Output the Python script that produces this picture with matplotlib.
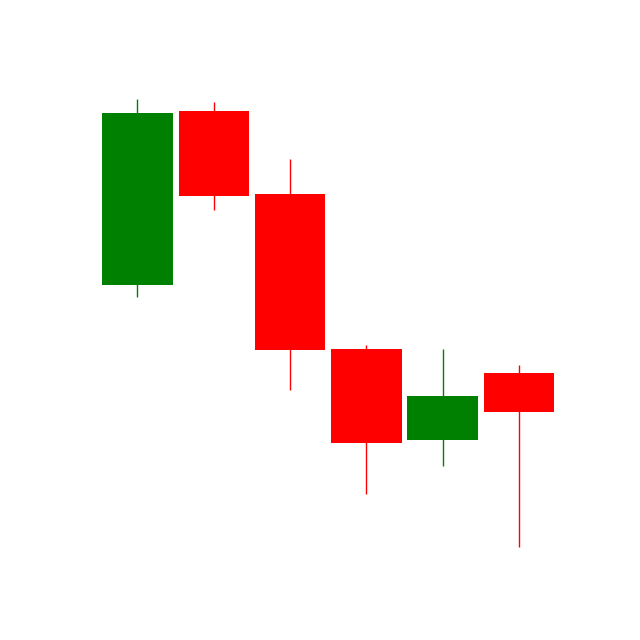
import matplotlib
matplotlib.use("Agg")
import matplotlib.pyplot as plt
import numpy as np

opens = [88.75, 132.25, 111.5, 72.7, 49.9, 66.7]
highs = [135.2, 134.6, 120.25, 73.75, 72.75, 68.75]
lows = [85.8, 107.5, 62.5, 36.4, 43.6, 23.3]
closes = [131.7, 111.0, 72.5, 49.3, 61.0, 57.1]

fig = plt.figure(figsize=(6.4, 6.4), dpi=100)
ax = fig.add_axes([0, 0, 1, 1])
x = np.arange(len(opens))
colors = ['green' if c >= o else 'red' for o, c in zip(opens, closes)]
ax.vlines(x, lows, highs, colors=colors, linewidth=1.0, zorder=1)
bottoms = [min(o, c) for o, c in zip(opens, closes)]
heights = [abs(c - o) for o, c in zip(opens, closes)]
ax.bar(x, heights, bottom=bottoms, width=0.923, color=colors, zorder=2)
ax.set_xlim(-1.802, 6.586)
ax.set_ylim(0, 160)
ax.axis('off')
fig.savefig("out.png", dpi=100, facecolor='white')
